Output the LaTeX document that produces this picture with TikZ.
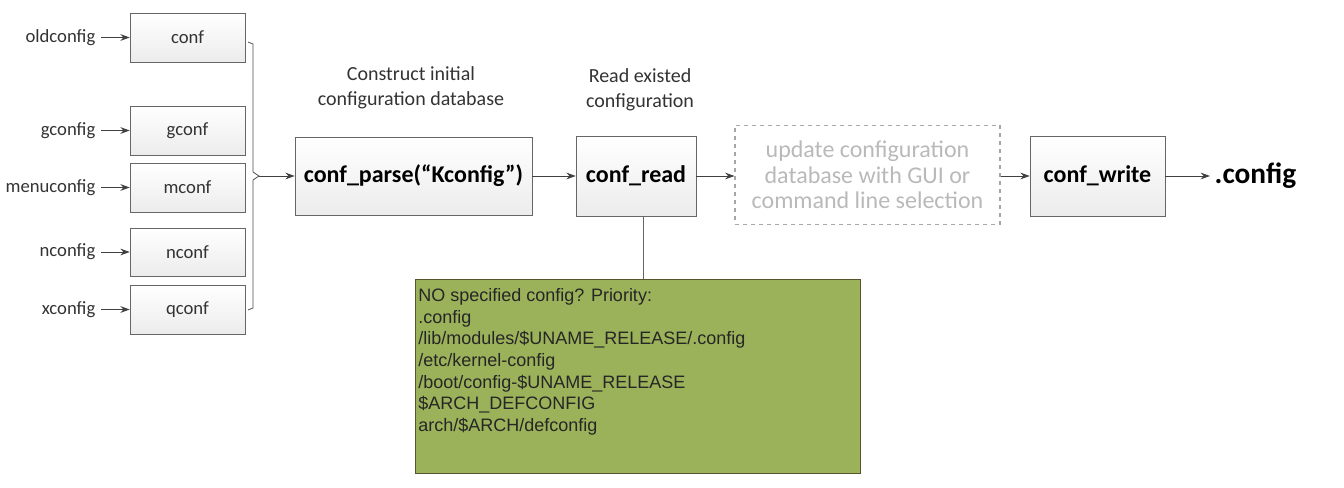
\documentclass[tikz,border=0pt]{standalone}
\usepackage{fontspec}
\setmainfont{Carlito}
\newfontfamily\arialf{Liberation Sans}
\usetikzlibrary{arrows.meta}
\begin{document}
\begin{tikzpicture}[x=0.75pt,y=-0.75pt,
  box/.style={draw=gray!80!black,top color=white,bottom color=gray!15,inner sep=0pt},
  lbl/.style={font=\fontsize{14}{19}\selectfont,text=black!80},
  arr/.style={-{Stealth[length=7pt,width=5pt]},draw=black!75,line width=0.7pt},
  big/.style={font=\fontsize{18}{20}\selectfont\bfseries}]
\useasboundingbox (0,0) rectangle (1344,488);
% small boxes
\foreach \n/\t/\ya/\yb/\l in {a/conf/13/62/oldconfig,b/gconf/106/155/gconfig,c/mconf/163/212/menuconfig,d/nconf/228/276/nconfig,e/qconf/285/334/xconfig}{
  \node[box,minimum width=115*0.75pt,minimum height={(\yb-\ya)*0.75pt},lbl] (\n) at (187.5,{(\ya+\yb)/2}) {\t};
  \node[lbl,anchor=east,inner sep=1pt] (l\n) at (97,{(\ya+\yb)/2}) {\l};
  \draw[arr] (l\n.east)++(4,0) -- (\n.west);
}
% bracket
\coordinate (br) at (259,176);
\draw[draw=black!70,line width=0.6pt] (248,42) -- (253,44) -- (253,172) -- (br) -- (253,180) -- (253,308) -- (248,310);
\node[box,big,minimum width=237*0.75pt,minimum height=78*0.75pt] (parse) at (413.5,176) {conf\_parse(“Kconfig”)};
\draw[arr] (br) -- (parse.west);
\node[lbl,align=center,font=\fontsize{15}{19}\selectfont] (t1) at (411,88) {Construct initial\\configuration database};
\node[box,big,minimum width=120*0.75pt,minimum height=80*0.75pt] (read) at (636,176) {conf\_read};
\node[lbl,align=center,font=\fontsize{15}{19}\selectfont] (t2) at (640,90) {Read existed\\configuration};
\draw[arr] (parse.east) -- (read.west);
\node[draw=gray!70,dashed,line width=0.8pt,minimum width=265*0.75pt,minimum height=99*0.75pt,align=center,text=gray!55,font=\fontsize{18}{19}\selectfont] (upd) at (867.5,175) {update configuration\\database with GUI or\\command line selection};
\draw[arr] (read.east) -- (upd.west|-read.east);
\node[box,big,minimum width=135*0.75pt,minimum height=80*0.75pt] (write) at (1097.5,176) {conf\_write};
\draw[arr] (upd.east|-write.west) -- (write.west);
\node[anchor=west,font=\fontsize{22}{24}\selectfont\bfseries] (cfg) at (1210,176) {.config};
\draw[arr] (write.east) -- (cfg.west);
\node[draw=olive!50!black,fill={rgb,255:red,155;green,178;blue,90},minimum width=445*0.75pt,minimum height=194*0.75pt,anchor=north west] (green) at (415,279) {};
\node[anchor=north west,align=left,font=\arialf\fontsize{13.5}{16.3}\selectfont,text=black!85,inner sep=0pt] (gt) at (418,288) {NO specified config? Priority:\\.config\\/lib/modules/\$UNAME\_RELEASE/.config\\/etc/kernel-config\\/boot/config-\$UNAME\_RELEASE\\\$ARCH\_DEFCONFIG\\arch/\$ARCH/defconfig};
\draw[draw=black!60,line width=0.6pt] (read.south -| 643,0) -- (green.north -| 643,0);
\end{tikzpicture}
\end{document}
